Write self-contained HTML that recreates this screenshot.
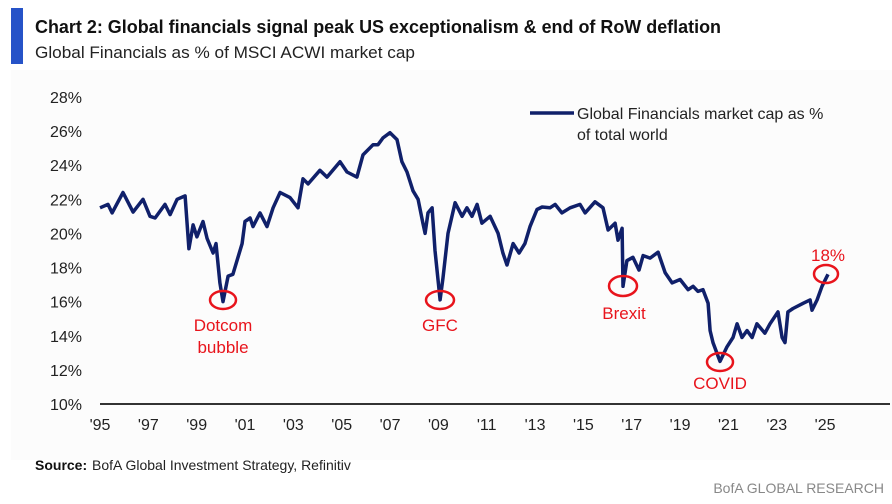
<!DOCTYPE html>
<html><head><meta charset="utf-8"><style>
body{margin:0;background:#fff;width:892px;height:499px;overflow:hidden;font-family:"Liberation Sans",sans-serif}
</style></head><body>
<svg id="chart" width="892" height="499" xmlns="http://www.w3.org/2000/svg" font-family="Liberation Sans, sans-serif">
<rect x="11" y="70" width="881" height="390" fill="#fcfcfc"/>
<rect x="11" y="8" width="12" height="56" fill="#2653c8"/>
<text x="35" y="33" font-size="18" font-weight="bold" fill="#111" textLength="686" lengthAdjust="spacingAndGlyphs">Chart 2: Global financials signal peak US exceptionalism &amp; end of RoW deflation</text>
<text x="35" y="58" font-size="17" fill="#222" textLength="380" lengthAdjust="spacingAndGlyphs">Global Financials as % of MSCI ACWI market cap</text>
<g id="yaxis"></g>
<g id="xaxis"></g>
<line x1="100" y1="404" x2="890" y2="404" stroke="#333" stroke-width="2"/>
<path id="series" fill="none" stroke="#10206a" stroke-width="3.5" stroke-linejoin="round"/>
<g>
<line x1="530" y1="113" x2="574" y2="113" stroke="#10206a" stroke-width="3.5"/>
<text x="577" y="119" font-size="16" fill="#222">Global Financials market cap as %</text>
<text x="577" y="140" font-size="16" fill="#222">of total world</text>
</g>
<g fill="none" stroke="#e8141c" stroke-width="2.5">
<ellipse cx="223" cy="300" rx="13" ry="9"/>
<ellipse cx="440" cy="300" rx="14" ry="9"/>
<ellipse cx="623" cy="286" rx="14" ry="10"/>
<ellipse cx="720" cy="362" rx="13" ry="9"/>
<ellipse cx="826" cy="274" rx="12" ry="9"/>
</g>
<g fill="#e8141c" font-size="17" text-anchor="middle">
<text x="223" y="331">Dotcom</text>
<text x="223" y="353">bubble</text>
<text x="440" y="331">GFC</text>
<text x="624" y="319">Brexit</text>
<text x="720" y="389">COVID</text>
<text x="828" y="261">18%</text>
</g>
<text x="35" y="470" font-size="14" font-weight="bold" fill="#111">Source:</text>
<text x="92" y="470" font-size="14" fill="#222">BofA Global Investment Strategy, Refinitiv</text>
<text x="884" y="493" font-size="14" fill="#888" text-anchor="end">BofA GLOBAL RESEARCH</text>
</svg>
<script>
const years=[1995.00,1995.33,1995.50,1995.95,1996.37,1996.78,1997.07,1997.28,1997.69,1997.90,1998.19,1998.52,1998.68,1998.85,1999.01,1999.26,1999.43,1999.68,1999.80,1999.96,2000.09,2000.30,2000.50,2000.88,2001.00,2001.21,2001.33,2001.62,2001.91,2002.16,2002.45,2002.86,2003.19,2003.40,2003.61,2004.10,2004.39,2004.93,2005.22,2005.63,2005.88,2006.30,2006.50,2006.71,2007.00,2007.29,2007.49,2007.70,2007.95,2008.16,2008.36,2008.45,2008.57,2008.74,2008.86,2009.07,2009.19,2009.40,2009.69,2009.98,2010.18,2010.39,2010.60,2010.80,2011.14,2011.47,2011.67,2011.84,2012.09,2012.34,2012.58,2012.79,2013.08,2013.29,2013.62,2013.83,2014.11,2014.45,2014.86,2015.07,2015.48,2015.81,2016.02,2016.31,2016.43,2016.60,2016.64,2016.80,2017.05,2017.30,2017.47,2017.76,2018.09,2018.38,2018.67,2019.00,2019.33,2019.54,2019.74,2019.95,2020.16,2020.24,2020.36,2020.65,2020.94,2021.19,2021.36,2021.56,2021.77,2021.98,2022.18,2022.51,2022.72,2023.05,2023.22,2023.34,2023.46,2023.67,2024.09,2024.38,2024.46,2024.67,2024.87,2025.12];
const values=[21.5,21.7,21.2,22.4,21.25,22.0,21.0,20.9,21.7,21.1,22.0,22.2,19.1,20.5,19.8,20.7,19.7,18.85,19.4,17.1,16.0,17.5,17.6,19.4,20.7,20.9,20.4,21.2,20.4,21.5,22.4,22.1,21.5,23.2,22.9,23.7,23.3,24.2,23.6,23.3,24.6,25.2,25.2,25.6,25.9,25.5,24.2,23.6,22.5,22.0,20.6,20.0,21.2,21.5,19.0,16.1,17.4,20.0,21.8,21.0,21.5,21.0,21.7,20.6,21.0,20.0,18.85,18.15,19.4,18.85,19.4,20.4,21.4,21.55,21.5,21.7,21.2,21.5,21.7,21.2,21.85,21.5,20.2,20.6,19.6,20.3,16.9,18.4,18.6,17.85,18.7,18.55,18.9,17.7,17.1,17.3,16.7,16.9,16.6,16.7,15.9,14.3,13.6,12.5,13.35,13.9,14.7,13.9,14.3,13.9,14.7,14.15,14.7,15.4,13.9,13.6,15.4,15.6,15.9,16.1,15.5,16.1,16.9,17.6];
const yTicks=[10,12,14,16,18,20,22,24,26,28];
const xTickYears=[1995,1997,1999,2001,2003,2005,2007,2009,2011,2013,2015,2017,2019,2021,2023,2025];
const xTickLabels=["'95","'97","'99","'01","'03","'05","'07","'09","'11","'13","'15","'17","'19","'21","'23","'25"];
const NS="http://www.w3.org/2000/svg";
function xs(y){return 100+(y-1995)*24.17;}
function ys(v){return 404-(v-10)*17.06;}
const ya=document.getElementById('yaxis');
yTicks.forEach(t=>{const e=document.createElementNS(NS,'text');
e.setAttribute('x',82);e.setAttribute('y',ys(t)+6);e.setAttribute('text-anchor','end');e.setAttribute('font-size','16');e.setAttribute('fill','#222');


e.textContent=t+'%';ya.appendChild(e);});
const xa=document.getElementById('xaxis');
xTickYears.forEach((y,i)=>{const e=document.createElementNS(NS,'text');
e.setAttribute('x',xs(y));e.setAttribute('y',430);e.setAttribute('text-anchor','middle');e.setAttribute('font-size','16');e.setAttribute('fill','#222');


e.textContent=xTickLabels[i];xa.appendChild(e);});
document.getElementById('series').setAttribute('d',years.map((y,i)=>(i?'L':'M')+xs(y).toFixed(1)+' '+ys(values[i]).toFixed(1)).join(' '));
</script>
</body></html>
